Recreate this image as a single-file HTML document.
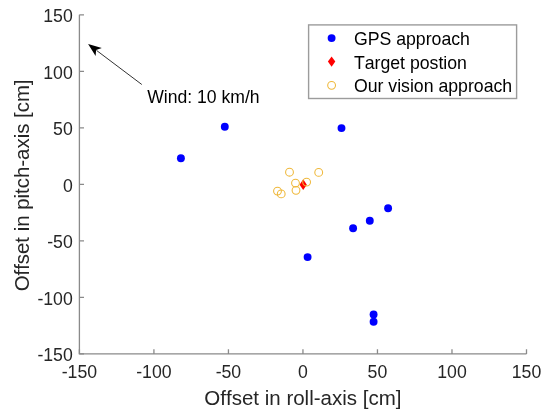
<!DOCTYPE html>
<html><head><meta charset="utf-8"><style>
html,body{margin:0;padding:0;background:#fff;}
svg{display:block;font-kerning:none;font-family:"Liberation Sans",Arial,sans-serif;}
</style></head><body>
<svg width="550" height="414" viewBox="0 0 550 414">
<rect width="550" height="414" fill="#fff"/>
<path d="M79.41 14.80 V353.89 H526.50" fill="none" stroke="#8a8a8a" stroke-width="1.3"/>
<path d="M79.41 353.89 v-4.6 M79.41 353.89 h4.6 M153.92 353.89 v-4.6 M79.41 297.38 h4.6 M228.44 353.89 v-4.6 M79.41 240.87 h4.6 M302.95 353.89 v-4.6 M79.41 184.35 h4.6 M377.46 353.89 v-4.6 M79.41 127.83 h4.6 M451.98 353.89 v-4.6 M79.41 71.32 h4.6 M526.50 353.89 v-4.6 M79.41 14.80 h4.6" fill="none" stroke="#8a8a8a" stroke-width="1.3"/>
<g font-size="17.7" fill="#262626"><text x="79.41" y="378.2" text-anchor="middle">-150</text><text x="72.8" y="361.19" text-anchor="end">-150</text><text x="153.92" y="378.2" text-anchor="middle">-100</text><text x="72.8" y="304.68" text-anchor="end">-100</text><text x="228.44" y="378.2" text-anchor="middle">-50</text><text x="72.8" y="248.17" text-anchor="end">-50</text><text x="302.95" y="378.2" text-anchor="middle">0</text><text x="72.8" y="191.65" text-anchor="end">0</text><text x="377.46" y="378.2" text-anchor="middle">50</text><text x="72.8" y="135.13" text-anchor="end">50</text><text x="451.98" y="378.2" text-anchor="middle">100</text><text x="72.8" y="78.62" text-anchor="end">100</text><text x="526.50" y="378.2" text-anchor="middle">150</text><text x="72.8" y="22.10" text-anchor="end">150</text></g>
<text x="302.9" y="405.1" text-anchor="middle" font-size="20.5" fill="#262626">Offset in roll-axis [cm]</text>
<text transform="translate(29.3 185.4) rotate(-90)" x="0" y="0" text-anchor="middle" font-size="20.4" fill="#262626">Offset in pitch-axis [cm]</text>
<circle cx="224.8" cy="126.7" r="3.95" fill="#0000ff"/>
<circle cx="180.9" cy="158.2" r="3.95" fill="#0000ff"/>
<circle cx="341.5" cy="128.1" r="3.95" fill="#0000ff"/>
<circle cx="353.1" cy="228.2" r="3.95" fill="#0000ff"/>
<circle cx="307.6" cy="257.1" r="3.95" fill="#0000ff"/>
<circle cx="388.1" cy="208.2" r="3.95" fill="#0000ff"/>
<circle cx="369.8" cy="220.8" r="3.95" fill="#0000ff"/>
<circle cx="373.6" cy="314.5" r="3.95" fill="#0000ff"/>
<circle cx="373.6" cy="321.8" r="3.95" fill="#0000ff"/>
<path d="M303.2 179.35 L306.85 184.65 L303.2 189.95 L299.55 184.65 Z" fill="#ff0000"/>
<circle cx="289.5" cy="172.2" r="3.9" fill="none" stroke="#efb83a" stroke-width="1.05"/>
<circle cx="318.7" cy="172.4" r="3.9" fill="none" stroke="#efb83a" stroke-width="1.05"/>
<circle cx="295.5" cy="183.1" r="3.9" fill="none" stroke="#efb83a" stroke-width="1.05"/>
<circle cx="306.6" cy="182.1" r="3.9" fill="none" stroke="#efb83a" stroke-width="1.05"/>
<circle cx="296.0" cy="190.3" r="3.9" fill="none" stroke="#efb83a" stroke-width="1.05"/>
<circle cx="277.5" cy="191.1" r="3.9" fill="none" stroke="#efb83a" stroke-width="1.05"/>
<circle cx="281.2" cy="193.9" r="3.9" fill="none" stroke="#efb83a" stroke-width="1.05"/>
<rect x="308.6" y="24.9" width="208" height="73.6" fill="#fff" stroke="#9c9c9c" stroke-width="1.4"/>
<circle cx="331.6" cy="38.1" r="3.95" fill="#0000ff"/>
<path d="M331.6 56.40 L335.30 61.6 L331.6 66.80 L327.90 61.6 Z" fill="#ff0000"/>
<circle cx="331.6" cy="85.3" r="3.9" fill="none" stroke="#efb83a" stroke-width="1.05"/>
<g font-size="17.7" fill="#000"><text x="353.9" y="45.2">GPS approach</text><text x="353.9" y="68.9">Target postion</text><text x="353.9" y="92.1">Our vision approach</text></g>
<path d="M141.8 84.5 L96.5 50.4" stroke="#333" stroke-width="1.0" fill="none"/>
<path d="M88.1 44.0 L101.8 48.1 L96.1 50.1 L95.6 56.1 Z" fill="#000"/>
<text x="147.2" y="102.5" font-size="17.6" fill="#000">Wind: 10 km/h</text>
</svg>
</body></html>
